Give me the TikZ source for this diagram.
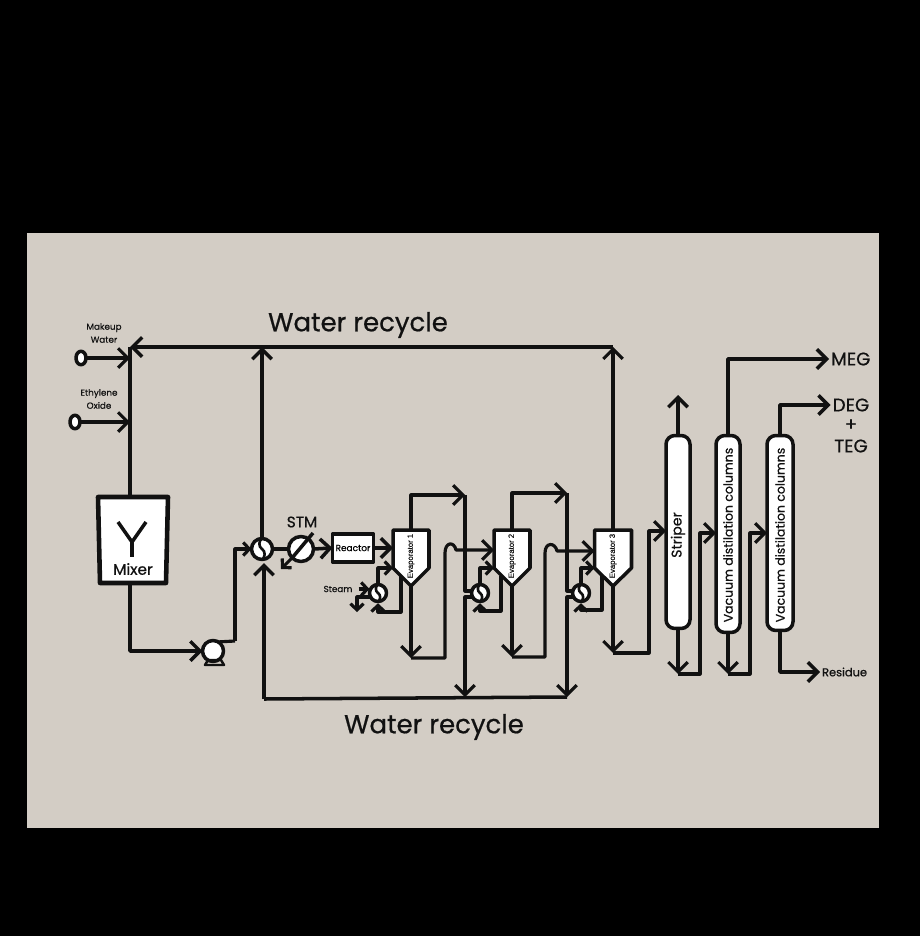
\documentclass[tikz,border=0pt]{standalone}
\usepackage{graphicx}
\usepackage{fontspec}
\setmainfont{Poppins}[FakeBold=0.6]
\newfontfamily\smallfont{Liberation Sans}[FakeBold=0.4]
\usetikzlibrary{arrows.meta,shapes.geometric}

\definecolor{panelgrey}{HTML}{D3CDC5}
\definecolor{inkblack}{HTML}{111111}

\tikzset{
    flow/.style={line width=2pt, draw=inkblack, line join=round},
    thinflow/.style={flow, line width=1.8pt},
    smalltip/.style={thinflow, >={Straight Barb[length=3.5pt,width=7.5pt]}},
    unit/.style={line width=2pt, draw=inkblack, fill=white, line join=round},
    emptybody/.style={inner sep=0pt, outer sep=0pt},
    exchanger/.style={circle, unit, inner sep=0pt, outer sep=0pt, minimum size=#1,
        path picture={\draw[line width=1.5pt, draw=inkblack]
            (path picture bounding box.north)
            to[out=-150,in=150] (path picture bounding box.center)
            to[out=-30,in=30] (path picture bounding box.south);}},
    column/.style={rectangle, rounded corners=5pt, unit, inner sep=0pt, outer sep=0pt,
        minimum width=.48cm, minimum height=#1},
    feed/.style={ellipse, unit, inner sep=0pt, outer sep=0pt, minimum width=.2cm, minimum height=.27cm},
    bigtext/.style={text=inkblack, font=\fontsize{14.8}{18}\selectfont},
    midtext/.style={text=inkblack, font=\fontsize{8.7}{11}\selectfont},
    coltext/.style={text=inkblack, font=\fontsize{7.1}{9}\selectfont},
    endtext/.style={text=inkblack, inner sep=1pt, font=\fontsize{10.4}{12}\selectfont},
    tinytext/.style={text=inkblack, align=center, font=\fontsize{5}{7.4}\selectfont},
    evaptext/.style={text=inkblack, font=\smallfont\fontsize{4.4}{5}\selectfont},
    >={Straight Barb[length=5.5pt,width=11pt]}
}

\begin{document}
\begin{tikzpicture}[x=0.02cm,y=-0.02cm]
    % Background and panel
    \fill[black] (0,0) rectangle (920,936);
    \fill[panelgrey] (27,233) rectangle (879,828);

    % Titles
    \node[bigtext] (recycleTop) at (358,325) {Water recycle};
    \node[bigtext] (recycleBot) at (434,727) {Water recycle};

    % Feeds
    \node[feed] (makeup) at (81,358) {};
    \node[feed] (oxide) at (75,422) {};
    \node[tinytext] (makeupText) at (104,333) {Makeup\\Water};
    \node[tinytext] (oxideText) at (99,399) {Ethylene\\Oxide};

    % Mixer
    \node[emptybody, minimum width=1.32cm, minimum height=1.72cm] (mixer) at (133,540) {};
    \draw[unit, line width=2.6pt] ([xshift=-.04cm]mixer.north west) -- ([xshift=.04cm]mixer.north east)
        -- (mixer.south east) -- (mixer.south west) -- cycle;
    \coordinate (mixerFork) at (132,542);
    \draw[flow] (118,522) -- (mixerFork) -- (146,522);
    \draw[flow] (mixerFork) -- (132,557);
    \node[midtext] (mixerText) at (133,569) {Mixer};

    % Pump
    \node[circle, unit, inner sep=0pt, outer sep=0pt, minimum size=.42cm] (pump) at (213,651) {};
    \draw[flow, line width=1.4pt] (205,665) -- (224,665) -- (221,660) -- (208,660) -- cycle;
    \coordinate (pumpBend) at (235,641);

    % Exchanger and steam valve
    \node[exchanger=.42cm] (hxMain) at (262,549) {};
    \node[circle, unit, inner sep=0pt, outer sep=0pt, minimum size=.5cm] (stm) at (301,549) {};
    \node[midtext] (stmText) at (302,522) {STM};
    \coordinate (stmTop) at (313,533);
    \coordinate (stmOut) at (281,569);
    \node[rectangle, unit, inner sep=0pt, outer sep=0pt, minimum width=.82cm, minimum height=.56cm,
        font=\fontsize{5.1}{7}\selectfont] (reactor) at (353,548) {Reactor};

    % Evaporator 1
    \node[emptybody, minimum width=.72cm, minimum height=1.12cm] (evapA) at (411,558) {};
    \draw[unit] (evapA.north west) -- (evapA.north east) -- ([yshift=-.2cm]evapA.east)
        -- (evapA.south) -- ([yshift=-.2cm]evapA.west) -- cycle;
    \node[evaptext] (evapAText) at (411,556) {\rotatebox{90}{Evaporator 1}};

    % Evaporator 2
    \node[emptybody, minimum width=.72cm, minimum height=1.12cm] (evapB) at (512,558) {};
    \draw[unit] (evapB.north west) -- (evapB.north east) -- ([yshift=-.2cm]evapB.east)
        -- (evapB.south) -- ([yshift=-.2cm]evapB.west) -- cycle;
    \node[evaptext] (evapBText) at (512,556) {\rotatebox{90}{Evaporator 2}};

    % Evaporator 3
    \node[emptybody, minimum width=.74cm, minimum height=1.12cm] (evapC) at (613,558) {};
    \draw[unit] (evapC.north west) -- (evapC.north east) -- ([yshift=-.2cm]evapC.east)
        -- (evapC.south) -- ([yshift=-.2cm]evapC.west) -- cycle;
    \node[evaptext] (evapCText) at (613,556) {\rotatebox{90}{Evaporator 3}};

    % Reboilers
    \node[exchanger=.34cm] (hxA) at (378,593) {};
    \node[exchanger=.34cm] (hxB) at (480,593) {};
    \node[exchanger=.34cm] (hxC) at (581,593) {};
    \node[tinytext] (steam) at (338,589) {Steam};

    % Columns
    \node[column=3.86cm] (striper) at (678,532) {};
    \node[column=3.94cm] (vacA) at (728,534) {};
    \node[column=3.9cm, minimum width=.52cm] (vacB) at (780,533) {};
    \node[midtext, font=\fontsize{8}{10}\selectfont] (striperText) at (678,535) {\rotatebox{90}{Striper}};
    \node[coltext] (vacAText) at (728,535) {\rotatebox{90}{Vacuum distilation columns}};
    \node[coltext] (vacBText) at (780,535) {\rotatebox{90}{Vacuum distilation columns}};

    % Products
    \node[endtext, anchor=west] (meg) at (829,359) {MEG};
    \node[endtext] (deg) at (851,405) {DEG};
    \node[endtext] (plus) at (851,425) {+};
    \node[endtext] (teg) at (851,446) {TEG};
    \node[tinytext, inner sep=1pt, font=\fontsize{6.5}{8}\selectfont, anchor=west] (residue) at (820,672) {Residue};

    % Recycle lines
    \coordinate (topLeft) at (130,347);
    \coordinate (topRight) at (613,347);
    \coordinate (topMid) at (262,347);
    \coordinate (botLeft) at (264,699);
    \coordinate (botMidA) at (465,697);
    \coordinate (botMidB) at (567,697);
    \draw[flow,->] (topRight) -- (topLeft);
    \draw[thinflow,->] (evapC.north) -- (topRight);
    \draw[flow,->] (hxMain.north) -- (topMid);
    \draw[flow] (botMidB) -- (botLeft);
    \draw[flow,->,shorten >=2pt] (botLeft) -- (botLeft |- hxMain.south);

    % Feed lines
    \draw[thinflow,->] (makeup.east) -- (makeup.east -| topLeft);
    \draw[thinflow,->] (oxide.east) -- (oxide.east -| topLeft);
    \draw[flow, line width=2.6pt] (topLeft) -- (mixer.north -| topLeft);
    \draw[flow,->] (mixer.south -| topLeft) |- (pump.west);
    \draw[thinflow] (pump.60) -- (pumpBend);
    \draw[smalltip,->] (pumpBend) |- (hxMain.west);
    \draw[flow] (hxMain.east) -- (stm.west);
    \draw[flow] (stmTop) -- (stm.225);
    \draw[smalltip,->] (stm.225) -- (stmOut);
    \draw[flow,->] (stm.east) -- (reactor.west);
    \draw[flow,->] (reactor.east) -- (reactor.east -| evapA.west);

    % Steam side of the first reboiler
    \coordinate (steamOut) at (357,612);
    \draw[smalltip,->] (steam.east) -- (steam.east -| hxA.west);
    \draw[smalltip,->] ([yshift=-.08cm]hxA.west) -| (steamOut);

    % Reboiler loops
    \coordinate (retA) at (401,576);
    \coordinate (retAb) at (378,612);
    \draw[smalltip,->] (hxA.north) |- ([yshift=-.2cm]evapA.west);
    \draw[smalltip,->,shorten >=1pt] (retA) |- (retAb) -- (hxA.south);
    \coordinate (retB) at (501,576);
    \coordinate (retBb) at (480,611);
    \draw[smalltip,->] (hxB.north) |- ([yshift=-.2cm]evapB.west);
    \draw[smalltip,->,shorten >=1pt] (retB) |- (retBb) -- (hxB.south);
    \coordinate (retC) at (602,576);
    \coordinate (retCb) at (581,610);
    \draw[smalltip,->] (hxC.north) |- ([yshift=-.2cm]evapC.west);
    \draw[smalltip,->,shorten >=1pt] (retC) |- (retCb) -- (hxC.south);

    % Vapour lines
    \coordinate (vapA) at (465,495);
    \coordinate (vapB) at (567,493);
    \draw[thinflow,->] (evapA.north) |- (vapA);
    \draw[thinflow] (vapA) |- ([yshift=.04cm]hxB.west);
    \draw[thinflow,->] ([yshift=-.08cm]hxB.west) -| (botMidA);
    \draw[thinflow,->] (evapB.north) |- (vapB);
    \draw[thinflow] (vapB) |- ([yshift=.04cm]hxC.west);
    \draw[thinflow,->] ([yshift=-.08cm]hxC.west) -| (botMidB);

    % Liquid lines
    \coordinate (liqA) at (411,658);
    \coordinate (hopA) at (445,553);
    \coordinate (hopAEnd) at (456,550);
    \draw[thinflow,->] (evapA.south) -- (liqA);
    \draw[thinflow,->] (liqA) -| (hopA) .. controls +(0,-11) and +(-2,-9) .. (hopAEnd) -- (hopAEnd -| evapB.west);
    \coordinate (liqB) at (512,657);
    \coordinate (hopB) at (545,553);
    \coordinate (hopBEnd) at (557,551);
    \draw[thinflow,->] (evapB.south) -- (liqB);
    \draw[thinflow,->] (liqB) -| (hopB) .. controls +(0,-11) and +(-2,-9) .. (hopBEnd) -- (hopBEnd -| evapC.west);
    \coordinate (liqC) at (613,653);
    \coordinate (riseC) at (649,531);
    \draw[thinflow,->] (evapC.south) -- (liqC);
    \draw[thinflow,->] (liqC) -| (riseC) -- (riseC -| striper.west);

    % Column connections
    \coordinate (striperTop) at (678,395);
    \coordinate (striperBot) at (678,674);
    \coordinate (riseA) at (700,533);
    \draw[flow,->] (striper.north) -- (striperTop);
    \draw[thinflow,->] (striper.south) -- (striperBot);
    \draw[thinflow,->] (striperBot) -| (riseA) -- (riseA -| vacA.west);
    \coordinate (vacABot) at (728,674);
    \coordinate (riseB) at (750,533);
    \draw[thinflow,->] (vacA.south) -- (vacABot);
    \draw[thinflow,->] (vacABot) -| (riseB) -- (riseB -| vacB.west);
    \draw[flow,->] (vacA.north) |- (meg.west);
    \draw[flow,->] (vacB.north) |- (deg.west);
    \draw[flow,->] (vacB.south) |- (residue.west);
\end{tikzpicture}
\end{document}
